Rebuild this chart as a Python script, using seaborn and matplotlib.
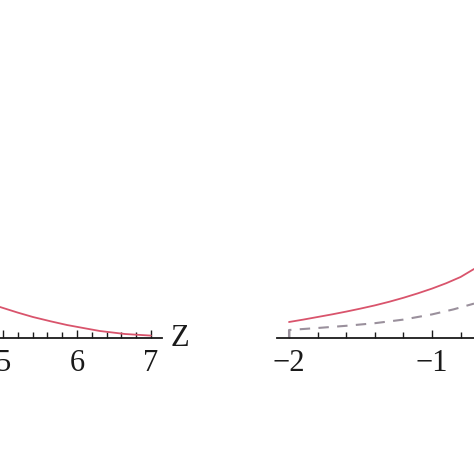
import pandas as pd
import seaborn as sns
import matplotlib.pyplot as plt
from matplotlib.ticker import MultipleLocator

# left panel (decaying curve vs Z)
z_left = [4.96, 5.2, 5.405, 5.65, 5.865, 6.1, 6.31, 6.65, 7.0]
red_left = [0.155, 0.127, 0.105, 0.083, 0.065, 0.049, 0.035, 0.02, 0.012]

# right panel (two rising curves)
x_right = [-2.0, -1.9, -1.8, -1.7, -1.6, -1.5, -1.4, -1.3, -1.2, -1.1,
           -1.0, -0.9, -0.8, -0.706]
red_right = [0.080, 0.092, 0.105, 0.118, 0.132, 0.147, 0.163, 0.181, 0.201,
             0.223, 0.247, 0.274, 0.305, 0.345]
x_dash = [-2.0, -2.0, -1.8, -1.6, -1.4, -1.2, -1.0, -0.85, -0.706]
dash_right = [0.0, 0.04, 0.05, 0.061, 0.074, 0.092, 0.118, 0.143, 0.172]

sns.set_theme(style="white")
plt.rcParams["font.family"] = ["Liberation Serif", "DejaVu Serif"]

red = "#d9546c"
grey = "#9a909c"
ink = "#1a1a1a"

df_left = pd.DataFrame({"z": z_left, "v": red_left})
df_red = pd.DataFrame({"x": x_right, "v": red_right})
df_dash = pd.DataFrame({"x": x_dash, "v": dash_right})

fig = plt.figure(figsize=(4.74, 4.74), dpi=100)
W = 474.0
ax1 = fig.add_axes([0 / W, 136 / W, 162 / W, 200 / W])
ax2 = fig.add_axes([277 / W, 136 / W, 197 / W, 200 / W])

sns.lineplot(data=df_left, x="z", y="v", ax=ax1, color=red, linewidth=1.3,
             estimator=None, sort=False)
sns.lineplot(data=df_red, x="x", y="v", ax=ax2, color=red, linewidth=1.3,
             estimator=None, sort=False)
sns.lineplot(data=df_dash, x="x", y="v", ax=ax2, color=grey, linewidth=1.5,
             estimator=None, sort=False, linestyle=(0, (5, 4)))

ax1.set_xlim(4.96, 7.15)
ax2.set_xlim(-2.084, -0.706)
ax1.set_xticks([5, 6, 7])
ax2.set_xticks([-2, -1])

for ax in (ax1, ax2):
    ax.set_ylim(0, 1)
    ax.set_xlabel("")
    ax.set_ylabel("")
    ax.set_yticks([])
    ax.patch.set_alpha(0)
    for s in ["left", "top", "right"]:
        ax.spines[s].set_visible(False)
    ax.spines["bottom"].set_color(ink)
    ax.spines["bottom"].set_linewidth(1.3)
    ax.xaxis.set_minor_locator(MultipleLocator(0.2))
    ax.tick_params(axis="x", which="major", bottom=True, direction="in",
                   length=6, width=1, pad=8, labelsize=22, colors=ink)
    ax.tick_params(axis="x", which="minor", bottom=True, direction="in",
                   length=4, width=1, colors=ink)

fig.text(180 / W, 1 - 338 / W, "Z", ha="center", va="center", fontsize=22,
         color=ink)

fig.savefig("out.png", dpi=100)
